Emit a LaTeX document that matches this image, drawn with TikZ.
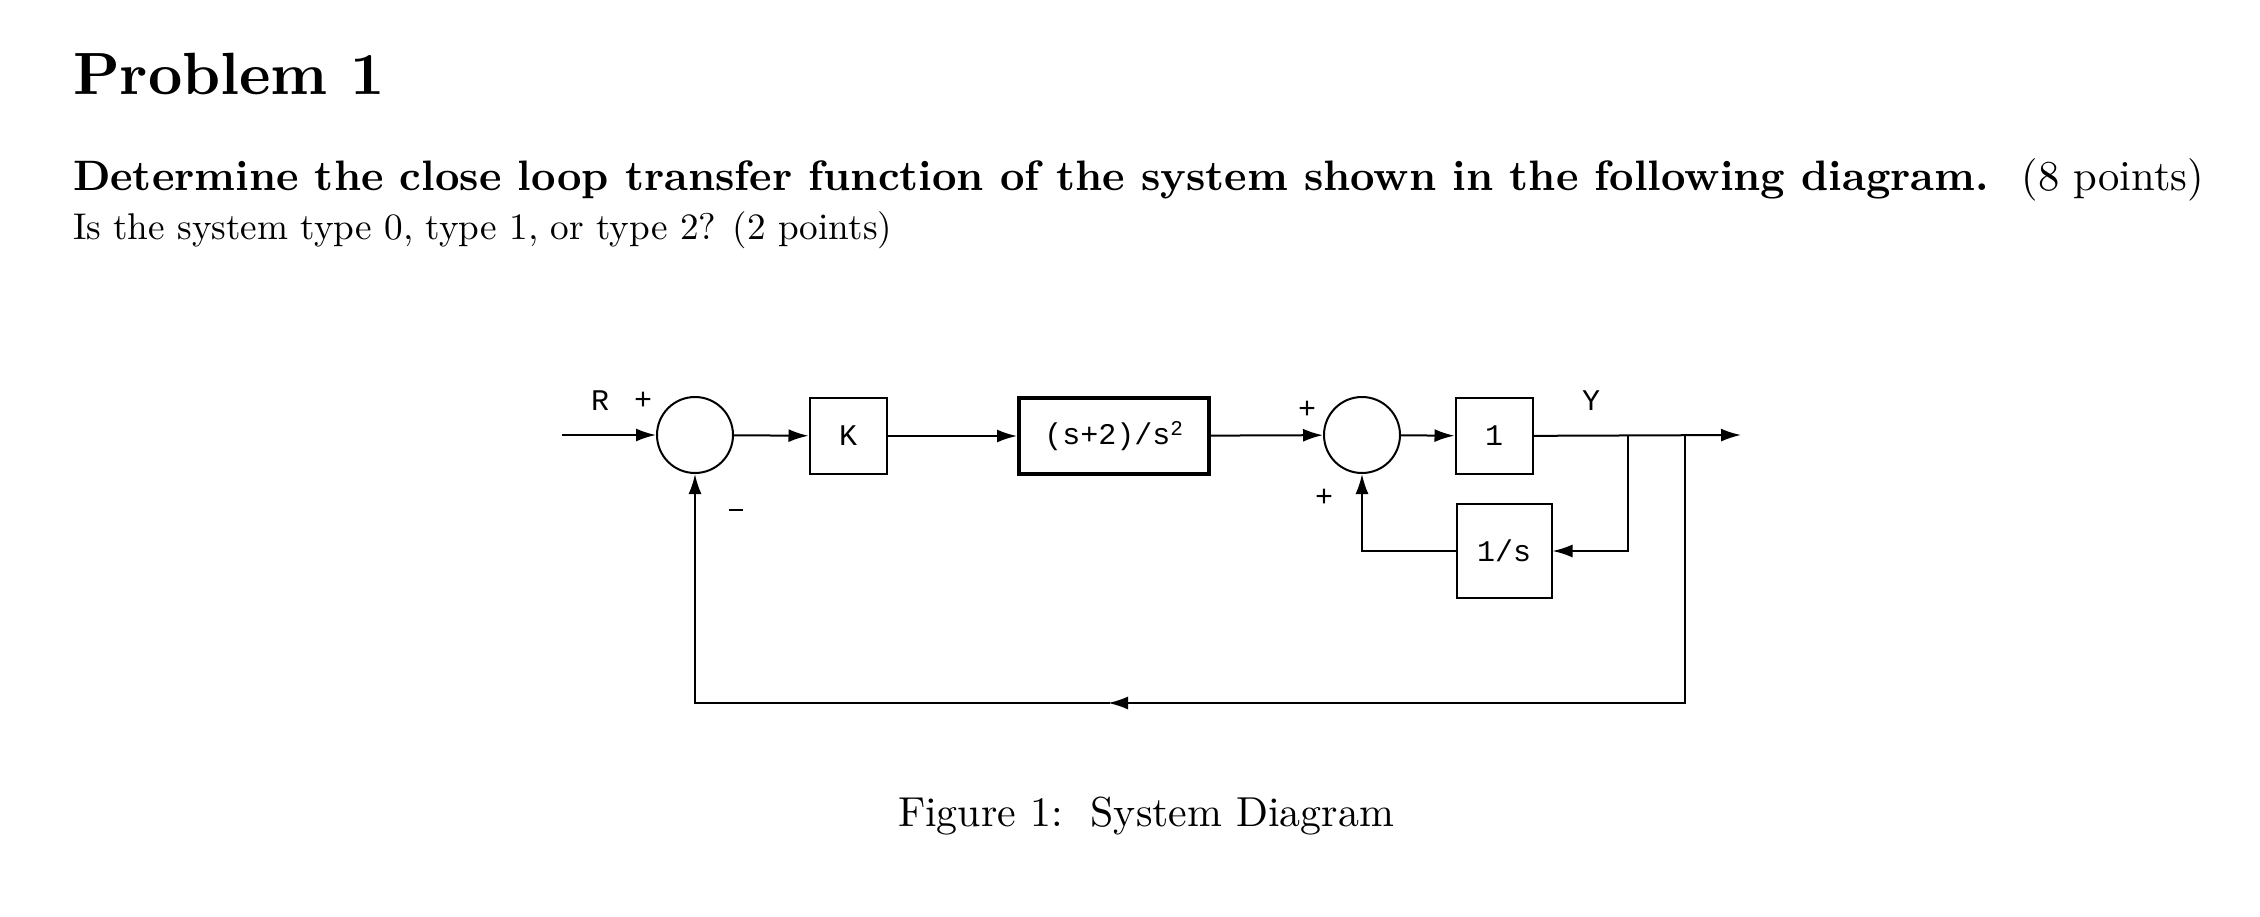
\documentclass[tikz,border=0pt]{standalone}
\usepackage{fontspec}
\newfontfamily\monof{Liberation Mono}
\usetikzlibrary{arrows.meta}
\begin{document}
\begin{tikzpicture}[x=1pt,y=-1pt,line width=2pt,
  arr/.style={-{Latex[length=20pt,width=13pt]}},
  blk/.style={draw,minimum width=77pt,minimum height=76pt,inner sep=0pt,font=\monof\fontsize{30}{30}\selectfont},
  sumc/.style={draw,circle,minimum size=76pt,inner sep=0pt},
  lbl/.style={font=\monof\fontsize{30}{30}\selectfont,inner sep=0pt}]
\useasboundingbox[fill=white] (0,0) rectangle (2260,916);
\node[anchor=base west,inner sep=0pt] (t1) at (72,94) {\resizebox{312pt}{!}{\bfseries Problem 1}};
\node[anchor=base west,inner sep=0pt] (t2) at (72,190) {\resizebox{2130pt}{!}{\bfseries Determine the close loop transfer function of the system shown in the following diagram.\ \ \mdseries(8 points)}};
\node[anchor=base west,inner sep=0pt] (t3) at (72,239) {\resizebox{819pt}{!}{Is the system type 0, type 1, or type 2? (2 points)}};
\node[anchor=base,inner sep=0pt] (cap) at (1146,826) {\resizebox{496pt}{!}{Figure 1:\ \ System Diagram}};

\coordinate (in) at (562,435);
\node[sumc] (s1) at (695,435) {};
\node[blk] (k) at (848,436) {K};
\node[blk,line width=4pt,minimum width=190pt,minimum height=76pt] (g) at (1114,436) {(s+2)/s\textsuperscript{2}};
\node[sumc] (s2) at (1362,435) {};
\node[blk] (one) at (1494,436) {1};
\node[blk,minimum width=95pt,minimum height=94pt] (h) at (1504,551) {1/s};
\coordinate (b1) at (1628,435);
\coordinate (b2) at (1685,435);
\coordinate (out) at (1741,435);
\coordinate (bot) at (1685,703);
\coordinate (botl) at (695,703);

\node[lbl] (R) at (600,401) {R};
\node[lbl] (p1) at (643,401) {+};
\node[lbl] (m1) at (736,510) {\rule{14pt}{2pt}};
\node[lbl] (p2) at (1307,410) {+};
\node[lbl] (p3) at (1324,498) {+};
\node[lbl] (Y) at (1591,401) {Y};

\draw[arr] (in) -- (s1);
\draw[arr] (s1) -- (k);
\draw[arr] (k) -- (g);
\draw[arr] (g) -- (s2);
\draw[arr] (s2) -- (one);
\draw[arr] (one) -- (out);
\draw[arr] (b1) |- (h.east);
\draw[arr] (h.west) -| (s2.south);
\draw[arr] (b2) -- (bot) -- (1108,703);
\draw[arr] (1110,703) -- (botl) -- (s1.south);
\end{tikzpicture}
\end{document}
